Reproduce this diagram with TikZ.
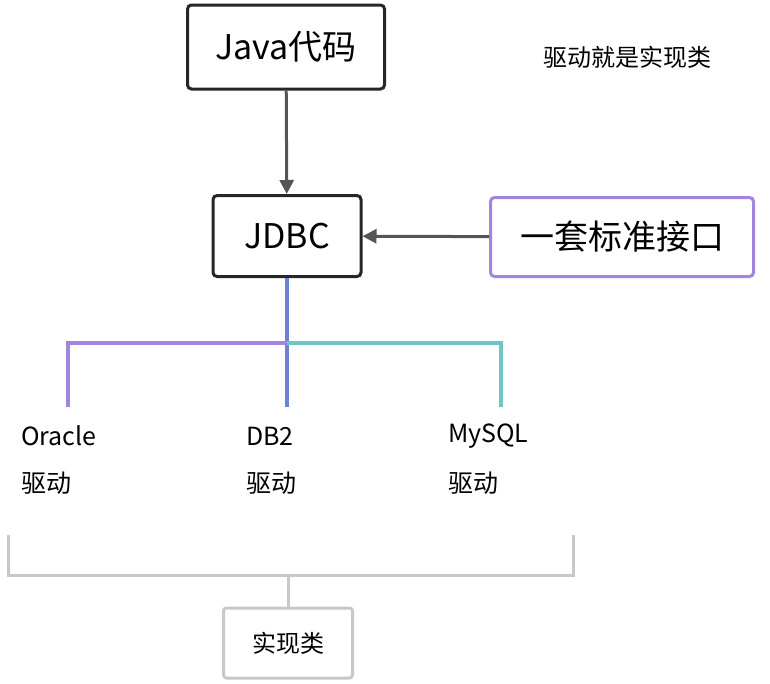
\documentclass[tikz,border=0pt]{standalone}
\usepackage{fontspec}
\setmainfont{Noto Sans CJK SC}
\usetikzlibrary{arrows.meta}
\definecolor{purp}{HTML}{A384DE}
\definecolor{blu}{HTML}{6C80DD}
\definecolor{tea}{HTML}{6EC6C3}
\definecolor{gry}{HTML}{C8C8C8}
\definecolor{dk}{HTML}{555555}
\begin{document}
\begin{tikzpicture}[x=1pt,y=-1pt,
  box/.style={draw=black!85,line width=3pt,rounded corners=4pt,inner sep=0pt},
  arr/.style={dk,line width=3pt,-{Triangle[length=14pt,width=14pt]}},
  lab/.style={anchor=west,font=\fontsize{25}{25}\selectfont,inner sep=0pt}]
\useasboundingbox (0,0) rectangle (770,683);
\node[box,minimum width=197pt,minimum height=84pt,font=\fontsize{34}{34}\selectfont] (java) at (286,47) {Java代码};
\node[font=\fontsize{24}{24}\selectfont] (note) at (627,57) {驱动就是实现类};
\node[box,minimum width=148pt,minimum height=81pt,font=\fontsize{34}{34}\selectfont] (jdbc) at (287,236) {JDBC};
\node[box,draw=purp,minimum width=263pt,minimum height=79pt,font=\fontsize{34}{34}\selectfont] (std) at (622,237) {一套标准接口};
\draw[arr] (java) -- (jdbc);
\draw[arr] (std) -- (jdbc);
\coordinate (j) at (287,343);
\coordinate (o) at (68,407);
\coordinate (d) at (287,407);
\coordinate (m) at (501,407);
\draw[blu,line width=4.5pt] (jdbc.south) -- (j) -- (d);
\draw[purp,line width=4.5pt] (j) -| (o);
\draw[tea,line width=4.5pt] (j) -| (m);
\node[lab] (o1) at (21,436) {Oracle};
\node[lab] (o2) at (21,483) {驱动};
\node[lab] (d1) at (246,436) {DB2};
\node[lab] (d2) at (246,483) {驱动};
\node[lab] (m1) at (448,436) {MySQL};
\node[lab] (m2) at (448,483) {驱动};
\node[draw=gry,line width=3pt,rounded corners=3pt,minimum width=129pt,minimum height=70pt,font=\fontsize{24}{24}\selectfont] (impl) at (288,643) {实现类};
\coordinate (b1) at (8,535);
\coordinate (b2) at (573,535);
\draw[gry,line width=3pt] (b1) -- (8,575) -- (573,575) -- (b2);
\draw[gry,line width=3pt] (288,575) -- (impl.north);
\end{tikzpicture}
\end{document}
